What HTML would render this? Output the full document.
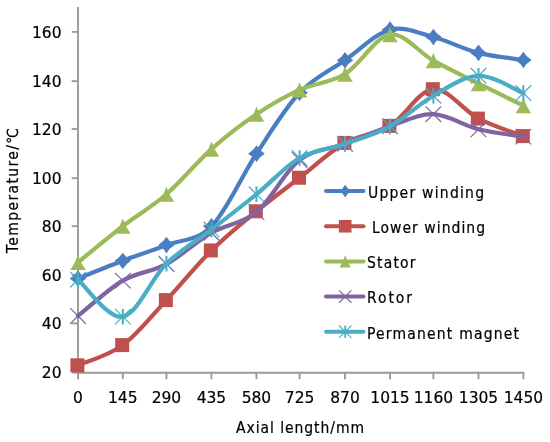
<!DOCTYPE html><html><head><meta charset="utf-8"><title>Temperature vs axial length</title><style>html,body{margin:0;padding:0;background:#fff;}svg{display:block;}</style></head><body>
<svg width="550" height="442" viewBox="0 0 550 442" font-family="'DejaVu Sans Condensed', 'DejaVu Sans', 'Liberation Sans', sans-serif">
<rect width="550" height="442" fill="#fff"/>
<g stroke="#9a9a9a" stroke-width="1.9" fill="none">
<path d="M78.0,7.0 V373.75"/>
<path d="M77.05,372.8 H524.35"/>
<path d="M71.7,372.60 H78.0"/>
<path d="M71.7,323.40 H78.0"/>
<path d="M71.7,275.00 H78.0"/>
<path d="M71.7,226.20 H78.0"/>
<path d="M71.7,178.20 H78.0"/>
<path d="M71.7,129.05 H78.0"/>
<path d="M71.7,81.10 H78.0"/>
<path d="M71.7,31.90 H78.0"/>
<path d="M78.00,372.8 V379.2"/>
<path d="M122.80,372.8 V379.2"/>
<path d="M166.45,372.8 V379.2"/>
<path d="M211.45,372.8 V379.2"/>
<path d="M256.45,372.8 V379.2"/>
<path d="M299.60,372.8 V379.2"/>
<path d="M345.00,372.8 V379.2"/>
<path d="M390.00,372.8 V379.2"/>
<path d="M433.40,372.8 V379.2"/>
<path d="M478.50,372.8 V379.2"/>
<path d="M523.40,372.8 V379.2"/>
</g>
<g font-size="15.5" fill="#000" text-anchor="end" font-family="'DejaVu Sans', 'Liberation Sans', sans-serif" stroke="#000" stroke-width="0.2">
<text x="61.5" y="378.30">20</text>
<text x="61.5" y="329.10">40</text>
<text x="61.5" y="280.70">60</text>
<text x="61.5" y="231.90">80</text>
<text x="61.5" y="183.90">100</text>
<text x="61.5" y="134.75">120</text>
<text x="61.5" y="86.80">140</text>
<text x="61.5" y="37.60">160</text>
</g>
<g font-size="15.5" fill="#000" text-anchor="middle" font-family="'DejaVu Sans', 'Liberation Sans', sans-serif" stroke="#000" stroke-width="0.2">
<text x="78.00" y="403.3">0</text>
<text x="122.80" y="403.3">145</text>
<text x="166.45" y="403.3">290</text>
<text x="211.45" y="403.3">435</text>
<text x="256.45" y="403.3">580</text>
<text x="299.60" y="403.3">725</text>
<text x="345.00" y="403.3">870</text>
<text x="390.00" y="403.3">1015</text>
<text x="433.40" y="403.3">1160</text>
<text x="478.50" y="403.3">1305</text>
<text x="523.40" y="403.3">1450</text>
</g>
<text x="236" y="432.6" font-size="15.5" fill="#000" stroke="#000" stroke-width="0.2" textLength="128" lengthAdjust="spacing">Axial length/mm</text>
<text transform="translate(17.8,253.0) rotate(-90)" x="0" y="0" font-size="15.5" fill="#000" stroke="#000" stroke-width="0.2" textLength="125" lengthAdjust="spacing">Temperature/℃</text>
<path d="M78.00,278.44 C85.47,275.48 108.06,266.24 122.80,260.68 C137.54,255.13 151.67,250.83 166.45,245.11 C181.22,239.39 196.45,241.62 211.45,226.38 C226.45,211.13 241.76,175.89 256.45,153.63 C271.14,131.37 284.84,108.38 299.60,92.81 C314.36,77.23 329.93,70.73 345.00,60.20 C360.07,49.68 375.27,33.52 390.00,29.67 C404.73,25.82 418.65,33.22 433.40,37.09 C448.15,40.96 463.50,49.09 478.50,52.90 C493.50,56.72 515.92,58.78 523.40,59.96" stroke="#4A7EC2" stroke-width="4.2" fill="none" stroke-linejoin="round" stroke-linecap="round"/>
<path d="M78.00,270.14 Q80.99,275.45 86.30,278.44 Q80.99,281.43 78.00,286.74 Q75.01,281.43 69.70,278.44 Q75.01,275.45 78.00,270.14Z" fill="#4A7EC2"/>
<path d="M122.80,252.38 Q125.79,257.69 131.10,260.68 Q125.79,263.67 122.80,268.98 Q119.81,263.67 114.50,260.68 Q119.81,257.69 122.80,252.38Z" fill="#4A7EC2"/>
<path d="M166.45,236.81 Q169.44,242.12 174.75,245.11 Q169.44,248.10 166.45,253.41 Q163.46,248.10 158.15,245.11 Q163.46,242.12 166.45,236.81Z" fill="#4A7EC2"/>
<path d="M211.45,218.08 Q214.44,223.39 219.75,226.38 Q214.44,229.36 211.45,234.68 Q208.46,229.36 203.15,226.38 Q208.46,223.39 211.45,218.08Z" fill="#4A7EC2"/>
<path d="M256.45,145.33 Q259.44,150.64 264.75,153.63 Q259.44,156.62 256.45,161.93 Q253.46,156.62 248.15,153.63 Q253.46,150.64 256.45,145.33Z" fill="#4A7EC2"/>
<path d="M299.60,84.51 Q302.59,89.82 307.90,92.81 Q302.59,95.79 299.60,101.11 Q296.61,95.79 291.30,92.81 Q296.61,89.82 299.60,84.51Z" fill="#4A7EC2"/>
<path d="M345.00,51.90 Q347.99,57.21 353.30,60.20 Q347.99,63.19 345.00,68.50 Q342.01,63.19 336.70,60.20 Q342.01,57.21 345.00,51.90Z" fill="#4A7EC2"/>
<path d="M390.00,21.37 Q392.99,26.68 398.30,29.67 Q392.99,32.66 390.00,37.97 Q387.01,32.66 381.70,29.67 Q387.01,26.68 390.00,21.37Z" fill="#4A7EC2"/>
<path d="M433.40,28.79 Q436.39,34.10 441.70,37.09 Q436.39,40.08 433.40,45.39 Q430.41,40.08 425.10,37.09 Q430.41,34.10 433.40,28.79Z" fill="#4A7EC2"/>
<path d="M478.50,44.60 Q481.49,49.92 486.80,52.90 Q481.49,55.89 478.50,61.20 Q475.51,55.89 470.20,52.90 Q475.51,49.92 478.50,44.60Z" fill="#4A7EC2"/>
<path d="M523.40,51.66 Q526.39,56.97 531.70,59.96 Q526.39,62.95 523.40,68.26 Q520.41,62.95 515.10,59.96 Q520.41,56.97 523.40,51.66Z" fill="#4A7EC2"/>
<path d="M78.00,365.30 C85.47,361.94 108.06,355.97 122.80,345.11 C137.54,334.24 151.67,315.87 166.45,300.10 C181.22,284.32 196.45,265.26 211.45,250.46 C226.45,235.66 241.76,223.42 256.45,211.29 C271.14,199.17 284.84,189.11 299.60,177.72 C314.36,166.32 329.93,151.56 345.00,142.92 C360.07,134.29 375.27,134.86 390.00,125.89 C404.73,116.93 418.65,90.37 433.40,89.16 C448.15,87.94 463.50,110.77 478.50,118.59 C493.50,126.42 515.92,133.19 523.40,136.11" stroke="#C0504D" stroke-width="4.2" fill="none" stroke-linejoin="round" stroke-linecap="round"/>
<rect x="70.40" y="358.30" width="14.00" height="14.00" fill="#C0504D"/>
<rect x="115.20" y="338.11" width="14.00" height="14.00" fill="#C0504D"/>
<rect x="158.85" y="293.10" width="14.00" height="14.00" fill="#C0504D"/>
<rect x="203.85" y="243.46" width="14.00" height="14.00" fill="#C0504D"/>
<rect x="248.85" y="204.29" width="14.00" height="14.00" fill="#C0504D"/>
<rect x="292.00" y="170.72" width="14.00" height="14.00" fill="#C0504D"/>
<rect x="337.40" y="135.92" width="14.00" height="14.00" fill="#C0504D"/>
<rect x="382.40" y="118.89" width="14.00" height="14.00" fill="#C0504D"/>
<rect x="425.80" y="82.16" width="14.00" height="14.00" fill="#C0504D"/>
<rect x="470.90" y="111.59" width="14.00" height="14.00" fill="#C0504D"/>
<rect x="515.80" y="129.11" width="14.00" height="14.00" fill="#C0504D"/>
<path d="M78.00,262.39 C85.47,256.34 108.06,237.49 122.80,226.13 C137.54,214.78 151.67,207.10 166.45,194.26 C181.22,181.43 196.45,162.47 211.45,149.13 C226.45,135.79 241.76,124.09 256.45,114.22 C271.14,104.34 284.84,96.58 299.60,89.89 C314.36,83.19 329.93,83.28 345.00,74.07 C360.07,64.87 375.27,36.89 390.00,34.66 C404.73,32.43 418.65,52.54 433.40,60.69 C448.15,68.84 463.50,76.06 478.50,83.56 C493.50,91.06 515.92,102.01 523.40,105.70" stroke="#9BBB59" stroke-width="4.2" fill="none" stroke-linejoin="round" stroke-linecap="round"/>
<path d="M78.00,254.79 Q80.73,263.15 85.80,269.99 L70.20,269.99 Q75.27,263.15 78.00,254.79Z" fill="#9BBB59"/>
<path d="M122.80,218.53 Q125.53,226.89 130.60,233.73 L115.00,233.73 Q120.07,226.89 122.80,218.53Z" fill="#9BBB59"/>
<path d="M166.45,186.66 Q169.18,195.02 174.25,201.86 L158.65,201.86 Q163.72,195.02 166.45,186.66Z" fill="#9BBB59"/>
<path d="M211.45,141.53 Q214.18,149.89 219.25,156.73 L203.65,156.73 Q208.72,149.89 211.45,141.53Z" fill="#9BBB59"/>
<path d="M256.45,106.62 Q259.18,114.98 264.25,121.82 L248.65,121.82 Q253.72,114.98 256.45,106.62Z" fill="#9BBB59"/>
<path d="M299.60,82.29 Q302.33,90.65 307.40,97.49 L291.80,97.49 Q296.87,90.65 299.60,82.29Z" fill="#9BBB59"/>
<path d="M345.00,66.47 Q347.73,74.83 352.80,81.67 L337.20,81.67 Q342.27,74.83 345.00,66.47Z" fill="#9BBB59"/>
<path d="M390.00,27.06 Q392.73,35.42 397.80,42.26 L382.20,42.26 Q387.27,35.42 390.00,27.06Z" fill="#9BBB59"/>
<path d="M433.40,53.09 Q436.13,61.45 441.20,68.29 L425.60,68.29 Q430.67,61.45 433.40,53.09Z" fill="#9BBB59"/>
<path d="M478.50,75.96 Q481.23,84.32 486.30,91.16 L470.70,91.16 Q475.77,84.32 478.50,75.96Z" fill="#9BBB59"/>
<path d="M523.40,98.10 Q526.13,106.46 531.20,113.30 L515.60,113.30 Q520.67,106.46 523.40,98.10Z" fill="#9BBB59"/>
<path d="M78.00,315.91 C85.47,310.03 108.06,289.27 122.80,280.63 C137.54,272.00 151.67,272.08 166.45,264.09 C181.22,256.10 196.45,241.38 211.45,232.70 C226.45,224.02 241.76,224.15 256.45,212.02 C271.14,199.90 284.84,171.31 299.60,159.96 C314.36,148.60 329.93,149.53 345.00,143.90 C360.07,138.26 375.27,131.08 390.00,126.14 C404.73,121.19 418.65,113.69 433.40,114.22 C448.15,114.74 463.50,125.57 478.50,129.30 C493.50,133.03 515.92,135.38 523.40,136.60" stroke="#8064A2" stroke-width="4.2" fill="none" stroke-linejoin="round" stroke-linecap="round"/>
<path d="M70.20,308.11 L85.80,323.71 M85.80,308.11 L70.20,323.71" stroke="#8064A2" stroke-width="1.2" fill="none"/>
<path d="M115.00,272.83 L130.60,288.43 M130.60,272.83 L115.00,288.43" stroke="#8064A2" stroke-width="1.2" fill="none"/>
<path d="M158.65,256.29 L174.25,271.89 M174.25,256.29 L158.65,271.89" stroke="#8064A2" stroke-width="1.2" fill="none"/>
<path d="M203.65,224.90 L219.25,240.50 M219.25,224.90 L203.65,240.50" stroke="#8064A2" stroke-width="1.2" fill="none"/>
<path d="M248.65,204.22 L264.25,219.82 M264.25,204.22 L248.65,219.82" stroke="#8064A2" stroke-width="1.2" fill="none"/>
<path d="M291.80,152.16 L307.40,167.76 M307.40,152.16 L291.80,167.76" stroke="#8064A2" stroke-width="1.2" fill="none"/>
<path d="M337.20,136.10 L352.80,151.70 M352.80,136.10 L337.20,151.70" stroke="#8064A2" stroke-width="1.2" fill="none"/>
<path d="M382.20,118.34 L397.80,133.94 M397.80,118.34 L382.20,133.94" stroke="#8064A2" stroke-width="1.2" fill="none"/>
<path d="M425.60,106.42 L441.20,122.02 M441.20,106.42 L425.60,122.02" stroke="#8064A2" stroke-width="1.2" fill="none"/>
<path d="M470.70,121.50 L486.30,137.10 M486.30,121.50 L470.70,137.10" stroke="#8064A2" stroke-width="1.2" fill="none"/>
<path d="M515.60,128.80 L531.20,144.40 M531.20,128.80 L515.60,144.40" stroke="#8064A2" stroke-width="1.2" fill="none"/>
<path d="M78.00,279.66 C85.47,285.82 108.06,319.32 122.80,316.64 C137.54,313.96 151.67,278.12 166.45,263.60 C181.22,249.08 196.45,241.10 211.45,229.54 C226.45,217.98 241.76,206.18 256.45,194.26 C271.14,182.34 284.84,166.40 299.60,158.01 C314.36,149.62 329.93,149.17 345.00,143.90 C360.07,138.63 375.27,134.41 390.00,126.38 C404.73,118.35 418.65,104.16 433.40,95.72 C448.15,87.29 463.50,76.22 478.50,75.77 C493.50,75.33 515.92,90.17 523.40,93.05" stroke="#4BACC6" stroke-width="4.2" fill="none" stroke-linejoin="round" stroke-linecap="round"/>
<path d="M70.20,271.86 L85.80,287.46 M85.80,271.86 L70.20,287.46" stroke="#4BACC6" stroke-width="1.2" fill="none"/><path d="M78.00,271.86 L78.00,287.46" stroke="#4BACC6" stroke-width="2.0" fill="none"/>
<path d="M115.00,308.84 L130.60,324.44 M130.60,308.84 L115.00,324.44" stroke="#4BACC6" stroke-width="1.2" fill="none"/><path d="M122.80,308.84 L122.80,324.44" stroke="#4BACC6" stroke-width="2.0" fill="none"/>
<path d="M158.65,255.80 L174.25,271.40 M174.25,255.80 L158.65,271.40" stroke="#4BACC6" stroke-width="1.2" fill="none"/><path d="M166.45,255.80 L166.45,271.40" stroke="#4BACC6" stroke-width="2.0" fill="none"/>
<path d="M203.65,221.74 L219.25,237.34 M219.25,221.74 L203.65,237.34" stroke="#4BACC6" stroke-width="1.2" fill="none"/><path d="M211.45,221.74 L211.45,237.34" stroke="#4BACC6" stroke-width="2.0" fill="none"/>
<path d="M248.65,186.46 L264.25,202.06 M264.25,186.46 L248.65,202.06" stroke="#4BACC6" stroke-width="1.2" fill="none"/><path d="M256.45,186.46 L256.45,202.06" stroke="#4BACC6" stroke-width="2.0" fill="none"/>
<path d="M291.80,150.21 L307.40,165.81 M307.40,150.21 L291.80,165.81" stroke="#4BACC6" stroke-width="1.2" fill="none"/><path d="M299.60,150.21 L299.60,165.81" stroke="#4BACC6" stroke-width="2.0" fill="none"/>
<path d="M337.20,136.10 L352.80,151.70 M352.80,136.10 L337.20,151.70" stroke="#4BACC6" stroke-width="1.2" fill="none"/><path d="M345.00,136.10 L345.00,151.70" stroke="#4BACC6" stroke-width="2.0" fill="none"/>
<path d="M382.20,118.58 L397.80,134.18 M397.80,118.58 L382.20,134.18" stroke="#4BACC6" stroke-width="1.2" fill="none"/><path d="M390.00,118.58 L390.00,134.18" stroke="#4BACC6" stroke-width="2.0" fill="none"/>
<path d="M425.60,87.92 L441.20,103.52 M441.20,87.92 L425.60,103.52" stroke="#4BACC6" stroke-width="1.2" fill="none"/><path d="M433.40,87.92 L433.40,103.52" stroke="#4BACC6" stroke-width="2.0" fill="none"/>
<path d="M470.70,67.97 L486.30,83.57 M486.30,67.97 L470.70,83.57" stroke="#4BACC6" stroke-width="1.2" fill="none"/><path d="M478.50,67.97 L478.50,83.57" stroke="#4BACC6" stroke-width="2.0" fill="none"/>
<path d="M515.60,85.25 L531.20,100.85 M531.20,85.25 L515.60,100.85" stroke="#4BACC6" stroke-width="1.2" fill="none"/><path d="M523.40,85.25 L523.40,100.85" stroke="#4BACC6" stroke-width="2.0" fill="none"/>
<path d="M326.0,191.10 H363.5" stroke="#4A7EC2" stroke-width="4.0" stroke-linecap="round"/>
<path d="M345.20,184.80 Q347.43,188.45 350.50,191.10 Q347.43,193.75 345.20,197.40 Q342.97,193.75 339.90,191.10 Q342.97,188.45 345.20,184.80Z" fill="#4A7EC2"/>
<text x="368" y="197.90" font-size="15.5" fill="#000" stroke="#000" stroke-width="0.2" textLength="116" lengthAdjust="spacing">Upper winding</text>
<path d="M326.0,226.25 H363.5" stroke="#C0504D" stroke-width="4.0" stroke-linecap="round"/>
<rect x="338.90" y="219.95" width="12.60" height="12.60" fill="#C0504D"/>
<text x="372" y="233.05" font-size="15.5" fill="#000" stroke="#000" stroke-width="0.2" textLength="113" lengthAdjust="spacing">Lower winding</text>
<path d="M326.0,261.40 H363.5" stroke="#9BBB59" stroke-width="4.0" stroke-linecap="round"/>
<path d="M345.20,255.30 Q347.44,261.81 350.80,267.50 L339.60,267.50 Q342.96,261.81 345.20,255.30Z" fill="#9BBB59"/>
<text x="367" y="268.20" font-size="15.5" fill="#000" stroke="#000" stroke-width="0.2" textLength="48.5" lengthAdjust="spacing">Stator</text>
<path d="M326.0,296.55 H363.5" stroke="#8064A2" stroke-width="4.0" stroke-linecap="round"/>
<path d="M339.00,290.35 L351.40,302.75 M351.40,290.35 L339.00,302.75" stroke="#8064A2" stroke-width="1.1" fill="none"/>
<text x="367" y="303.35" font-size="15.5" fill="#000" stroke="#000" stroke-width="0.2" textLength="45" lengthAdjust="spacing">Rotor</text>
<path d="M326.0,331.70 H363.5" stroke="#4BACC6" stroke-width="4.0" stroke-linecap="round"/>
<path d="M339.00,325.50 L351.40,337.90 M351.40,325.50 L339.00,337.90" stroke="#4BACC6" stroke-width="1.1" fill="none"/><path d="M345.20,325.50 L345.20,337.90" stroke="#4BACC6" stroke-width="1.8" fill="none"/>
<text x="367" y="338.50" font-size="15.5" fill="#000" stroke="#000" stroke-width="0.2" textLength="152" lengthAdjust="spacing">Permanent magnet</text>
</svg></body></html>
